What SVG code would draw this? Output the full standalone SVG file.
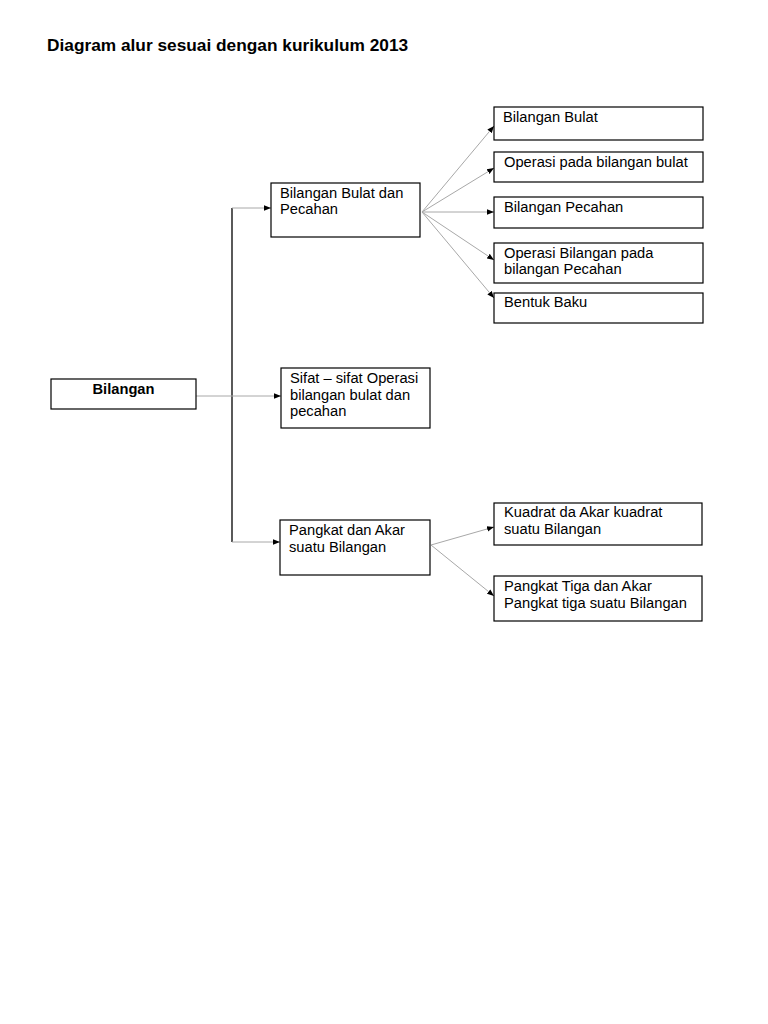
<svg xmlns="http://www.w3.org/2000/svg" width="768" height="1024" viewBox="0 0 768 1024">
<style>
.box{fill:#fff;stroke:#000;stroke-width:1.2}
.t{font-family:"Liberation Sans",Arial,sans-serif;font-size:14.7px;fill:#000}
.b{font-weight:bold}
.c{stroke:#a8a8a8;stroke-width:1;fill:none}
</style>
<defs>
<marker id="ar" viewBox="0 0 10 10" refX="10" refY="5" markerWidth="7" markerHeight="7" markerUnits="userSpaceOnUse" orient="auto">
<path d="M0,1 L10,5 L0,9 Z" fill="#000"/>
</marker>
</defs>
<rect width="768" height="1024" fill="#fff"/>
<text x="47" y="51" class="t b" style="font-size:17.3px">Diagram alur sesuai dengan kurikulum 2013</text>

<g id="connectors">
<line x1="232" y1="208" x2="232" y2="542" stroke="#000" stroke-width="1.3"/>
<line class="c" x1="232" y1="208" x2="271" y2="208" marker-end="url(#ar)"/>
<line class="c" x1="196" y1="396" x2="281" y2="396" marker-end="url(#ar)"/>
<line class="c" x1="232" y1="542" x2="280" y2="542" marker-end="url(#ar)"/>
<line class="c" x1="422" y1="212" x2="494" y2="126" marker-end="url(#ar)"/>
<line class="c" x1="422" y1="212" x2="494" y2="168" marker-end="url(#ar)"/>
<line class="c" x1="422" y1="212" x2="494" y2="212" marker-end="url(#ar)"/>
<line class="c" x1="422" y1="212" x2="494" y2="260" marker-end="url(#ar)"/>
<line class="c" x1="422" y1="212" x2="494" y2="298" marker-end="url(#ar)"/>
<line class="c" x1="431" y1="545" x2="494" y2="527" marker-end="url(#ar)"/>
<line class="c" x1="431" y1="545" x2="494" y2="596" marker-end="url(#ar)"/>
</g>

<g id="bilangan">
<rect class="box" x="51" y="379" width="145" height="30"/>
<text class="t b" x="123.5" y="394" text-anchor="middle">Bilangan</text>
</g>
<g id="bulat-pecahan">
<rect class="box" x="271" y="183" width="149" height="54"/>
<text class="t" x="280" y="198">Bilangan Bulat dan</text>
<text class="t" x="280" y="214">Pecahan</text>
</g>
<g id="sifat">
<rect class="box" x="281" y="368" width="149" height="60"/>
<text class="t" x="290" y="383">Sifat – sifat Operasi</text>
<text class="t" x="290" y="400">bilangan bulat dan</text>
<text class="t" x="290" y="416">pecahan</text>
</g>
<g id="pangkat-akar">
<rect class="box" x="280" y="520" width="150" height="55"/>
<text class="t" x="289" y="535">Pangkat dan Akar</text>
<text class="t" x="289" y="552">suatu Bilangan</text>
</g>
<g id="bilangan-bulat">
<rect class="box" x="494" y="107" width="209" height="33"/>
<text class="t" x="503" y="122">Bilangan Bulat</text>
</g>
<g id="operasi-bulat">
<rect class="box" x="494" y="152" width="209" height="30"/>
<text class="t" x="504" y="167">Operasi pada bilangan bulat</text>
</g>
<g id="bilangan-pecahan">
<rect class="box" x="494" y="197" width="209" height="31"/>
<text class="t" x="504" y="212">Bilangan Pecahan</text>
</g>
<g id="operasi-pecahan">
<rect class="box" x="494" y="243" width="209" height="40"/>
<text class="t" x="504" y="258">Operasi Bilangan pada</text>
<text class="t" x="504" y="274">bilangan Pecahan</text>
</g>
<g id="bentuk-baku">
<rect class="box" x="494" y="293" width="209" height="30"/>
<text class="t" x="504" y="307">Bentuk Baku</text>
</g>
<g id="kuadrat">
<rect class="box" x="494" y="503" width="208" height="42"/>
<text class="t" x="504" y="517">Kuadrat da Akar kuadrat</text>
<text class="t" x="504" y="534">suatu Bilangan</text>
</g>
<g id="pangkat-tiga">
<rect class="box" x="494" y="576" width="208" height="45"/>
<text class="t" x="504" y="591">Pangkat Tiga dan Akar</text>
<text class="t" x="504" y="608">Pangkat tiga suatu Bilangan</text>
</g>
</svg>
